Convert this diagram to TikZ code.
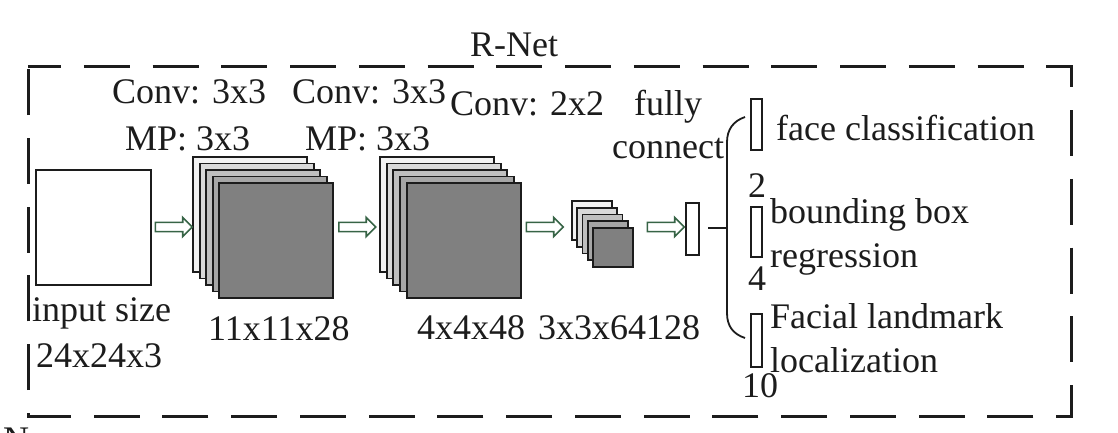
\documentclass[tikz,border=0pt]{standalone}
\usepackage{fontspec}
\setmainfont{Liberation Serif}
\usetikzlibrary{shapes.arrows}
\definecolor{L0}{HTML}{F2F2F2}
\definecolor{L1}{HTML}{D9D9D9}
\definecolor{L2}{HTML}{BFBFBF}
\definecolor{L3}{HTML}{A6A6A6}
\definecolor{L4}{HTML}{808080}
\definecolor{arrowgreen}{RGB}{55,100,70}
\definecolor{ink}{HTML}{1C1C1C}
\begin{document}
\begin{tikzpicture}[x=1pt,y=-1pt,
  lbl/.style={inner sep=0pt, anchor=base west, font=\fontsize{36}{40}\selectfont, text=ink},
  layer/.style={draw=ink, line width=1.9pt, inner sep=0pt},
  blk/.style={single arrow, draw=arrowgreen, line width=1.6pt, fill=white, inner xsep=0pt, inner ysep=3.8pt, minimum height=37pt, single arrow head extend=5pt, single arrow tip angle=90},
  vec/.style={draw=ink, line width=1.8pt, fill=white, inner sep=0pt},
  conn/.style={draw=ink, line width=1.8pt},
  dashbox/.style={line width=3pt, draw=ink, dash pattern=on 46pt off 22.75pt, dash phase=13pt}]
\useasboundingbox (0,0) rectangle (1118,432);
% frame
\draw[dashbox] (28,66) -- (1071,66) -- (1071,416) -- (28,416) -- cycle;
% labels
\node[lbl] (rnet) at (470,56) {R-Net};
\node[lbl] (c1) at (112,103) {Conv: 3x3};
\node[lbl] (m1) at (125,150) {MP: 3x3};
\node[lbl] (c2) at (292,103) {Conv: 3x3};
\node[lbl] (m2) at (305,150) {MP: 3x3};
\node[lbl] (c3) at (450,115) {Conv: 2x2};
\node[lbl] (fully) at (634,115) {fully};
\node[lbl] (connect) at (612,158) {connect};
\node[lbl] (ins) at (32,321) {input size};
\node[lbl] (ind) at (36,367) {24x24x3};
\node[lbl] (d1) at (208,340) {11x11x28};
\node[lbl] (d2) at (417,339) {4x4x48};
\node[lbl] (d3) at (538,339) {3x3x64128};
\node[lbl] (t1) at (776,140) {face classification};
\node[lbl] (n2) at (748,197) {2};
\node[lbl] (t2) at (770,223) {bounding box};
\node[lbl] (t2b) at (770,267) {regression};
\node[lbl] (n4) at (748,290) {4};
\node[lbl] (t3) at (770,328) {Facial landmark};
\node[lbl] (t3b) at (770,372) {localization};
\node[lbl] (n10) at (742,397) {10};
\node[lbl, anchor=north west] (pnet) at (3,428) {N};
% input
\node[vec, minimum width=115pt, minimum height=115pt] (in) at (93.5,227.5) {};
% stack 1
\foreach \i/\c in {0/L0,1/L1,2/L2,3/L3,4/L4}
  \node[layer, fill=\c, minimum width=114pt, minimum height=115pt] (sa\i) at ({193+6.6*\i+57},{157+6.5*\i+57.5}) {};
% stack 2
\foreach \i/\c in {0/L0,1/L1,2/L2,3/L3,4/L4}
  \node[layer, fill=\c, minimum width=114pt, minimum height=115pt] (sb\i) at ({380+6.7*\i+57},{157+6.5*\i+57.5}) {};
% stack 3
\foreach \i/\c in {0/L0,1/L1,2/L2,3/L3,4/L4}
  \node[layer, fill=\c, minimum width=40pt, minimum height=39pt] (sc\i) at ({572+5.25*\i+20},{201+6.75*\i+19.5}) {};
% arrows
\node[blk] (a1) at (171.5,227) {};
\node[blk] (a2) at (355,227) {};
\node[blk] (a3) at (542.5,227) {};
\node[blk] (a4) at (663.5,227) {};
% fully connected and outputs
\node[vec, minimum width=13pt, minimum height=52pt] (fc) at (692.5,229) {};
\node[vec, minimum width=11pt, minimum height=51pt] (o1) at (756.5,124.5) {};
\node[vec, minimum width=11pt, minimum height=50pt] (o2) at (756.5,232) {};
\node[vec, minimum width=11pt, minimum height=53pt] (o3) at (756.5,340.5) {};
% connector and brace
\coordinate (fcl) at (708,228);
\coordinate (bj) at (727,228);
\coordinate (bt) at (745,117);
\coordinate (bb) at (745,338);
\draw[conn] (fcl) -- (bj);
\draw[conn] (bt) .. controls (733,121) and (727,130) .. (727,142) -- (727,313) .. controls (727,326) and (733,334) .. (bb);
\end{tikzpicture}
\end{document}
